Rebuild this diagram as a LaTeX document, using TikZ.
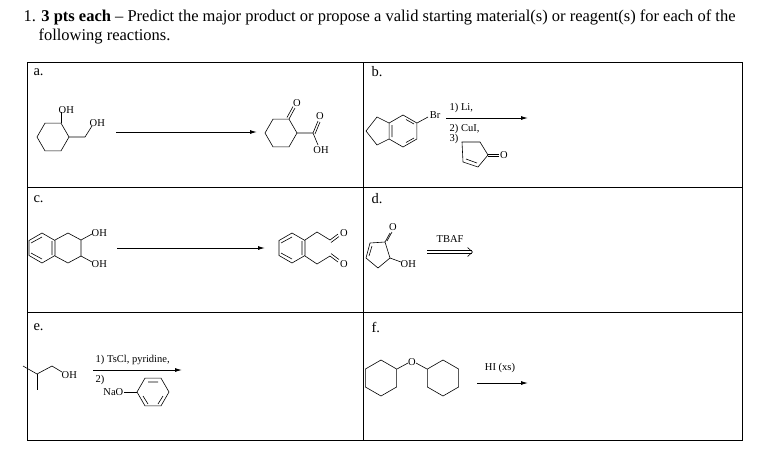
\documentclass[tikz,border=0pt]{standalone}
\usepackage{fontspec}
\setmainfont{Liberation Serif}
\usetikzlibrary{arrows.meta}
\begin{document}
\begin{tikzpicture}[x=1pt,y=-1pt,
  bond/.style={line width=0.6pt},
  atm/.style={font=\fontsize{10.5}{11}\selectfont,inner sep=0.5pt},
  cond/.style={font=\fontsize{10.5}{11}\selectfont,inner sep=0.5pt,anchor=west},
  lab/.style={font=\fontsize{14.5}{15}\selectfont,anchor=west},
  rxn/.style={line width=0.9pt,-{Latex[length=7pt,width=4pt]}}]
\useasboundingbox (0,0) rectangle (773,448);
% title
\node[anchor=west,font=\fontsize{16.5}{18}\selectfont] (t1) at (20,17) {1. \textbf{3 pts each} -- Predict the major product or propose a valid starting material(s) or reagent(s) for each of the};
\node[anchor=west,font=\fontsize{16.5}{18}\selectfont] (t2) at (35,36) {following reactions.};
% table
\draw[line width=0.6pt] (27,62) rectangle (742,440);
\draw[line width=0.6pt] (363,62) -- (363,440) (27,187) -- (742,187) (27,312) -- (742,312);
\node[lab] (la) at (30,72) {a.}; \node[lab] (lb) at (368,72) {b.};
\node[lab] (lc) at (30,199) {c.}; \node[lab] (ld) at (368,199) {d.};
\node[lab] (le) at (30,327) {e.}; \node[lab] (lf) at (368,327) {f.};
% ---- a
\draw[bond,shift={(53,137)}] (0:16)--(60:16)--(120:16)--(180:16)--(240:16)--(300:16)--cycle;
\draw[bond] (61,123) -- (61,112); \node[atm,anchor=south west] (oha1) at (58,114) {OH};
\draw[bond] (69,137) -- (85,137) -- (92,126); \node[atm,anchor=west] (oha2) at (89,123) {OH};
\draw[rxn] (116,132) -- (257,132);
\draw[bond,shift={(281,133)}] (0:16)--(60:16)--(120:16)--(180:16)--(240:16)--(300:16)--cycle;
\draw[bond] (289,119) -- (295,108); \draw[bond] (287,117.5) -- (293,106.5); \node[atm] (oa1) at (297,103) {O};
\draw[bond] (297,133) -- (313,133) -- (318,121); \draw[bond] (315,134) -- (320,122); \node[atm] (oa2) at (320,116) {O};
\draw[bond] (313,133) -- (318,145); \node[atm] (oa3) at (321,150) {OH};
% ---- b
\draw[bond,shift={(403,131)}] (90:16)--(30:16)--(-30:16)--(-90:16)--(-150:16)--(150:16)--cycle;
\draw[bond] (406,119.5) -- (414,124) (414,138) -- (406,142.5) (392,137)--(392,125);
\draw[bond] (389,123) -- (377,117) -- (366,131) -- (377,145) -- (389,139);
\draw[bond] (417,123) -- (428,117); \node[atm] (br) at (435,115) {Br};
\draw[rxn] (446,118) -- (528,118);
\node[cond] (b1) at (449,108) {1) Li,};
\node[cond] (b2) at (449,129) {2) CuI,};
\node[cond] (b3) at (449,139) {3)};
\draw[bond] (462,142) -- (480,142) -- (488,155) -- (478,167) -- (463,162) -- cycle;
\draw[bond] (466,159) -- (477,163);
\draw[bond] (488,154) -- (499,154) (488,156.5) -- (499,156.5); \node[atm] (ob) at (504,155) {O};
% ---- c
\draw[bond,shift={(42,248)}] (90:15)--(30:15)--(-30:15)--(-90:15)--(-150:15)--(150:15)--cycle;
\draw[bond] (42,237) -- (31,243) (31,253) -- (42,259) (52,255)--(52,241);
\draw[bond] (55,240) -- (68,233) -- (81,240) -- (81,256) -- (68,263) -- (55,256);
\draw[bond] (81,240) -- (92,234); \node[atm,anchor=west] (ohc1) at (91,233) {OH};
\draw[bond] (81,256) -- (92,262); \node[atm,anchor=west] (ohc2) at (91,264) {OH};
\draw[rxn] (117,248) -- (265,248);
\draw[bond,shift={(292,248)}] (90:15)--(30:15)--(-30:15)--(-90:15)--(-150:15)--(150:15)--cycle;
\draw[bond] (292,237) -- (281,243) (281,253) -- (292,259) (302,255)--(302,241);
\draw[bond] (305,240) -- (317,232) -- (330,240) -- (338,234); \draw[bond] (331,242.5) -- (339,236.5); \node[atm] (oc1) at (344,233) {O};
\draw[bond] (305,256) -- (317,264) -- (330,256) -- (338,262); \draw[bond] (331,253.5) -- (339,259.5); \node[atm] (oc2) at (344,264) {O};
% ---- d
\draw[bond] (385,242) -- (390,258) -- (378,268) -- (366,258) -- (370,243) -- cycle;
\draw[bond] (369,256) -- (372,246);
\draw[bond] (385,242) -- (390,233) (387,241) -- (392,232); \node[atm] (od) at (393,227) {O};
\draw[bond] (390,258) -- (401,262); \node[atm,anchor=west] (ohd) at (400,264) {OH};
\node[atm] (tbaf) at (450,239) {TBAF};
\draw[line width=0.6pt,double,double distance=2.5pt,-{Straight Barb[length=5pt,width=9pt]}] (427,252) -- (473,252);
% ---- e
\draw[bond] (23,366) -- (37,374) -- (52,366) -- (62,372); \draw[bond] (37,374) -- (37,390);
\node[atm,anchor=west] (ohe) at (61,375) {OH};
\draw[rxn] (93,370) -- (182,370);
\node[cond] (e1) at (95,360) {1) TsCl, pyridine,};
\node[cond] (e2) at (95,380) {2)};
\node[atm,anchor=east] (nao) at (124,392) {NaO};
\draw[bond] (124,392) -- (137,392);
\draw[bond,shift={(153,392)}] (0:16)--(60:16)--(120:16)--(180:16)--(240:16)--(300:16)--cycle;
\draw[bond] (148,382) -- (158,382) (163,396)--(158,404) (143,396)--(148,404);
% ---- f
\draw[bond,shift={(381,378)}] (90:18)--(30:18)--(-30:18)--(-90:18)--(-150:18)--(150:18)--cycle;
\draw[bond] (397,369) -- (408,363); \node[atm] (of) at (412,362) {O};
\draw[bond] (416,363) -- (427,369);
\draw[bond,shift={(443,378)}] (90:18)--(30:18)--(-30:18)--(-90:18)--(-150:18)--(150:18)--cycle;
\node[atm] (hi) at (500,368) {HI (xs)};
\draw[rxn] (477,383) -- (528,383);
\end{tikzpicture}
\end{document}
